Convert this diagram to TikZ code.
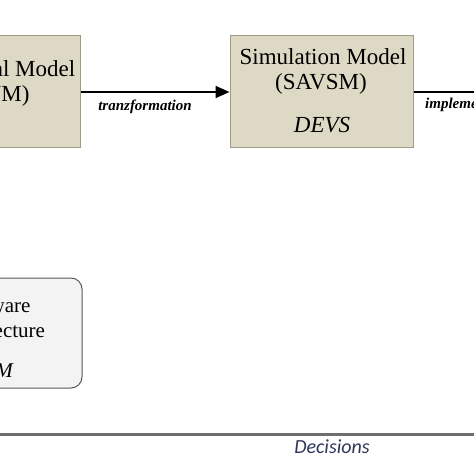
\documentclass[tikz,border=0pt]{standalone}
\usepackage{fontspec}
\setmainfont{Liberation Serif}
\newfontfamily\decfont{Carlito}
\usetikzlibrary{arrows.meta}
\definecolor{boxfill}{RGB}{221,217,196}
\definecolor{boxline}{RGB}{160,156,138}
\definecolor{softfill}{RGB}{243,243,243}
\definecolor{softline}{RGB}{90,90,90}
\definecolor{rulegray}{RGB}{110,110,110}
\definecolor{decblue}{RGB}{45,55,88}
\tikzset{
  modelbox/.style={draw=boxline, fill=boxfill, line width=1pt},
  archbox/.style={draw=softline, fill=softfill, line width=1pt, rounded corners=11pt},
  bigtxt/.style={inner sep=0pt, anchor=base, font=\fontsize{23}{25}\selectfont},
  midtxt/.style={inner sep=0pt, anchor=base, font=\fontsize{21}{23}\selectfont},
  edgetxt/.style={inner sep=0pt, font=\fontsize{15}{17}\selectfont\bfseries\itshape},
  flow/.style={line width=1.9pt, -{Triangle[length=14pt,width=12pt]}},
  plain/.style={line width=1.9pt}
}
\begin{document}
\begin{tikzpicture}[x=1pt,y=-1pt]
\path[use as bounding box, clip] (0,0) rectangle (474,474);
\fill[white] (0,0) rectangle (474,474);
% boxes
\node[modelbox, minimum width=183pt, minimum height=112pt, inner sep=0pt] (concept) at (-11.5,91) {};
\node[modelbox, minimum width=183pt, minimum height=112pt, inner sep=0pt] (sim) at (321.5,91) {};
\node[archbox, minimum width=179pt, minimum height=110pt, inner sep=0pt] (arch) at (-7.5,333) {};
% box texts
\node[bigtxt] (c1) at (-10,76) {Conceptual Model};
\node[bigtxt] (c2) at (-10,101) {(SAVM)};
\node[bigtxt] (s1) at (323,64) {Simulation Model};
\node[bigtxt] (s2) at (321,89) {(SAVSM)};
\node[bigtxt, font=\fontsize{23}{25}\selectfont\itshape] (s3) at (322,132) {DEVS};
\node[midtxt] (a1) at (-7.5,312) {Software};
\node[midtxt] (a2) at (-7.5,337) {Architecture};
\node[midtxt, font=\fontsize{21}{23}\selectfont\itshape] (a3) at (-7.5,377) {SAM};
% connectors
\coordinate (out) at (490,92);
\draw[flow] (concept.east |- 0,92) -- (sim.west |- 0,92);
\draw[plain] (sim.east |- 0,92) -- (out);
\node[edgetxt, anchor=base] (t1) at (145,110) {tranzformation};
\node[edgetxt, anchor=base west] (t2) at (425,108) {implementation};
% decisions rule
\coordinate (rl) at (0,434.5);
\coordinate (rr) at (474,434.5);
\draw[rulegray, line width=2.5pt] (rl) -- (rr);
\node[inner sep=0pt, anchor=base, text=decblue, font=\decfont\fontsize{20}{22}\selectfont\itshape] (dec) at (332,453) {Decisions};
\end{tikzpicture}
\end{document}
